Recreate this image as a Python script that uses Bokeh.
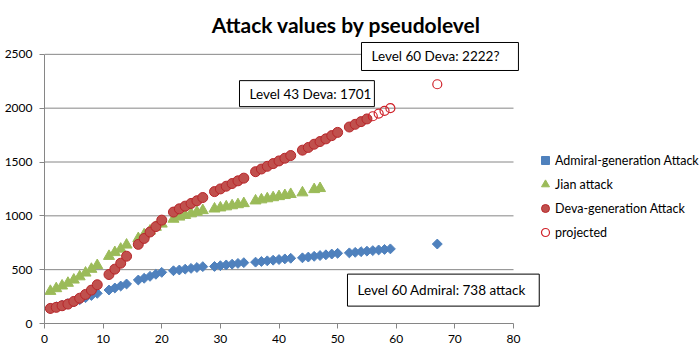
import math
from bokeh.plotting import figure
from bokeh.models import Range1d, Legend, LegendItem, Label, FixedTicker
from bokeh.embed import file_html
from bokeh.resources import INLINE

# ---------------- data ----------------
admiral_x = [1, 2, 3, 4, 5, 6, 7, 8, 9, 11, 12, 13, 14, 16, 17, 18, 19, 20,
             22, 23, 24, 25, 26, 27, 29, 30, 31, 32, 33, 34,
             36, 37, 38, 39, 40, 41, 42, 44, 45, 46, 47, 48, 49, 50,
             52, 53, 54, 55, 56, 57, 58, 59, 67]
admiral_y = [140, 155, 170, 185, 200, 220, 240, 260, 280, 311, 330, 348, 367,
             404, 420, 438, 457, 475, 490, 497, 505, 512, 520, 528,
             530, 537, 544, 551, 558, 565, 570, 576, 582, 588, 594, 600, 606,
             610, 617, 624, 631, 638, 645, 652,
             656, 661, 667, 672, 677, 683, 688, 693, 738]

jian_x = [1, 2, 3, 4, 5, 6, 7, 8, 9, 11, 12, 13, 14, 16, 17, 18, 19, 20,
          22, 23, 24, 25, 26, 27, 29, 30, 31, 32, 33, 34,
          36, 37, 38, 39, 40, 41, 42, 44, 46, 47]
jian_y = [300, 325, 350, 375, 405, 435, 470, 505, 540, 625, 660, 692, 730,
          790, 825, 860, 895, 925, 970, 990, 1005, 1020, 1035, 1050,
          1065, 1075, 1085, 1095, 1105, 1115,
          1140, 1150, 1160, 1170, 1180, 1190, 1200, 1215, 1245, 1255]

deva_x = [1, 2, 3, 4, 5, 6, 7, 8, 9, 11, 12, 13, 14, 16, 17, 18, 19, 20,
          22, 23, 24, 25, 26, 27, 29, 30, 31, 32, 33, 34,
          36, 37, 38, 39, 40, 41, 42, 44, 45, 46, 47, 48, 49, 50,
          52, 53, 54, 55]
deva_y = [140, 150, 165, 180, 205, 235, 270, 310, 360, 455, 505, 560, 625,
          735, 790, 850, 900, 960, 1035, 1065, 1090, 1115, 1140, 1170,
          1225, 1250, 1275, 1300, 1325, 1350,
          1410, 1435, 1460, 1485, 1510, 1535, 1560,
          1610, 1635, 1665, 1690, 1715, 1745, 1775,
          1825, 1850, 1875, 1900]

proj_x = [56, 57, 58, 59, 67]
proj_y = [1925, 1950, 1975, 2000, 2222]

x_ticks = [0, 10, 20, 30, 40, 50, 60, 70, 80]
y_ticks = [0, 500, 1000, 1500, 2000, 2500]
grid_y = [500, 1000, 1500, 2000, 2500]

FONT = "Lato"
GRID = "#868686"

# frame spans the whole canvas right/top so annotations are not clipped;
# the axes are bounded to the data extent 0..80 / 0..2500
X_MAX = 80 * 656 / 469
Y_MAX = 3000

p = figure(width=700, height=352, output_backend="svg", toolbar_location=None,
           x_range=Range1d(0, X_MAX), y_range=Range1d(0, Y_MAX),
           min_border_left=44, min_border_right=0, min_border_top=0,
           min_border_bottom=29)
p.outline_line_color = None
p.background_fill_color = "white"
p.border_fill_color = "white"
p.xgrid.visible = False
p.ygrid.visible = False

for ax in (p.xaxis[0], p.yaxis[0]):
    ax.axis_line_color = GRID
    ax.major_tick_line_color = GRID
    ax.major_tick_out = 5
    ax.major_tick_in = 0
    ax.minor_tick_line_color = None
    ax.major_label_text_font = FONT
    ax.major_label_text_font_size = "12px"
    ax.major_label_text_color = "black"
p.xaxis.ticker = FixedTicker(ticks=x_ticks)
p.yaxis.ticker = FixedTicker(ticks=y_ticks)
p.xaxis.bounds = (0, 80)
p.yaxis.bounds = (0, 2500)
p.xaxis.major_label_standoff = 6
p.yaxis.major_label_standoff = 7

# horizontal gridlines limited to the plot area
p.segment(x0=0, x1=80, y0=grid_y, y1=grid_y, line_color=GRID, line_width=1)

ADM = "#4F81BD"
r_adm = p.scatter(admiral_x, admiral_y, marker="square", size=7,
                  angle=math.pi / 4, fill_color=ADM, line_color=ADM)
r_jian = p.scatter(jian_x, jian_y, marker="triangle", size=11,
                   fill_color="#9BBB59", line_color="#9BBB59")
r_deva = p.scatter(deva_x, deva_y, marker="circle", size=10,
                   fill_color="#C0504D", line_color="#B8262A", line_width=1)
r_proj = p.scatter(proj_x, proj_y, marker="circle", size=9,
                   fill_color=None, line_color="#D0222A", line_width=1.2)

legend = Legend(items=[
    LegendItem(label="Admiral-generation Attack", renderers=[r_adm]),
    LegendItem(label="Jian attack", renderers=[r_jian]),
    LegendItem(label="Deva-generation Attack", renderers=[r_deva]),
    LegendItem(label="projected", renderers=[r_proj]),
], location=(491, 81))
legend.padding = 0
legend.margin = 0
legend.border_line_color = None
legend.background_fill_color = None
legend.background_fill_alpha = 0
legend.glyph_width = 20
legend.glyph_height = 20
legend.label_height = 20
legend.label_standoff = -4
legend.spacing = 4
legend.label_text_font = FONT
legend.label_text_font_size = "12.5px"
legend.label_text_color = "black"
p.add_layout(legend)

# title
p.add_layout(Label(x=51.5, y=2777, text="Attack values by pseudolevel",
                   text_font=FONT, text_font_size="21px", text_font_style="bold",
                   text_color="black", text_align="center",
                   text_baseline="middle"))


def box_label(x, y, text, pad):
    lab = Label(x=x, y=y, text=text, text_font=FONT, text_font_size="13.5px",
                text_color="black", text_baseline="middle", text_align="left",
                border_line_color="black", border_line_width=1,
                background_fill_color="white", padding=pad)
    p.add_layout(lab)


box_label(54.07, 2480, "Level 60 Deva: 2222?", dict(left=10, right=19, top=6, bottom=6))
box_label(33.26, 2135, "Level 43 Deva: 1701", dict(left=10, right=3, top=5, bottom=5))
box_label(51.68, 310, "Level 60 Admiral: 738  attack", dict(left=10, right=10, top=8, bottom=8))

open("out.html", "w").write(file_html(p, INLINE))
